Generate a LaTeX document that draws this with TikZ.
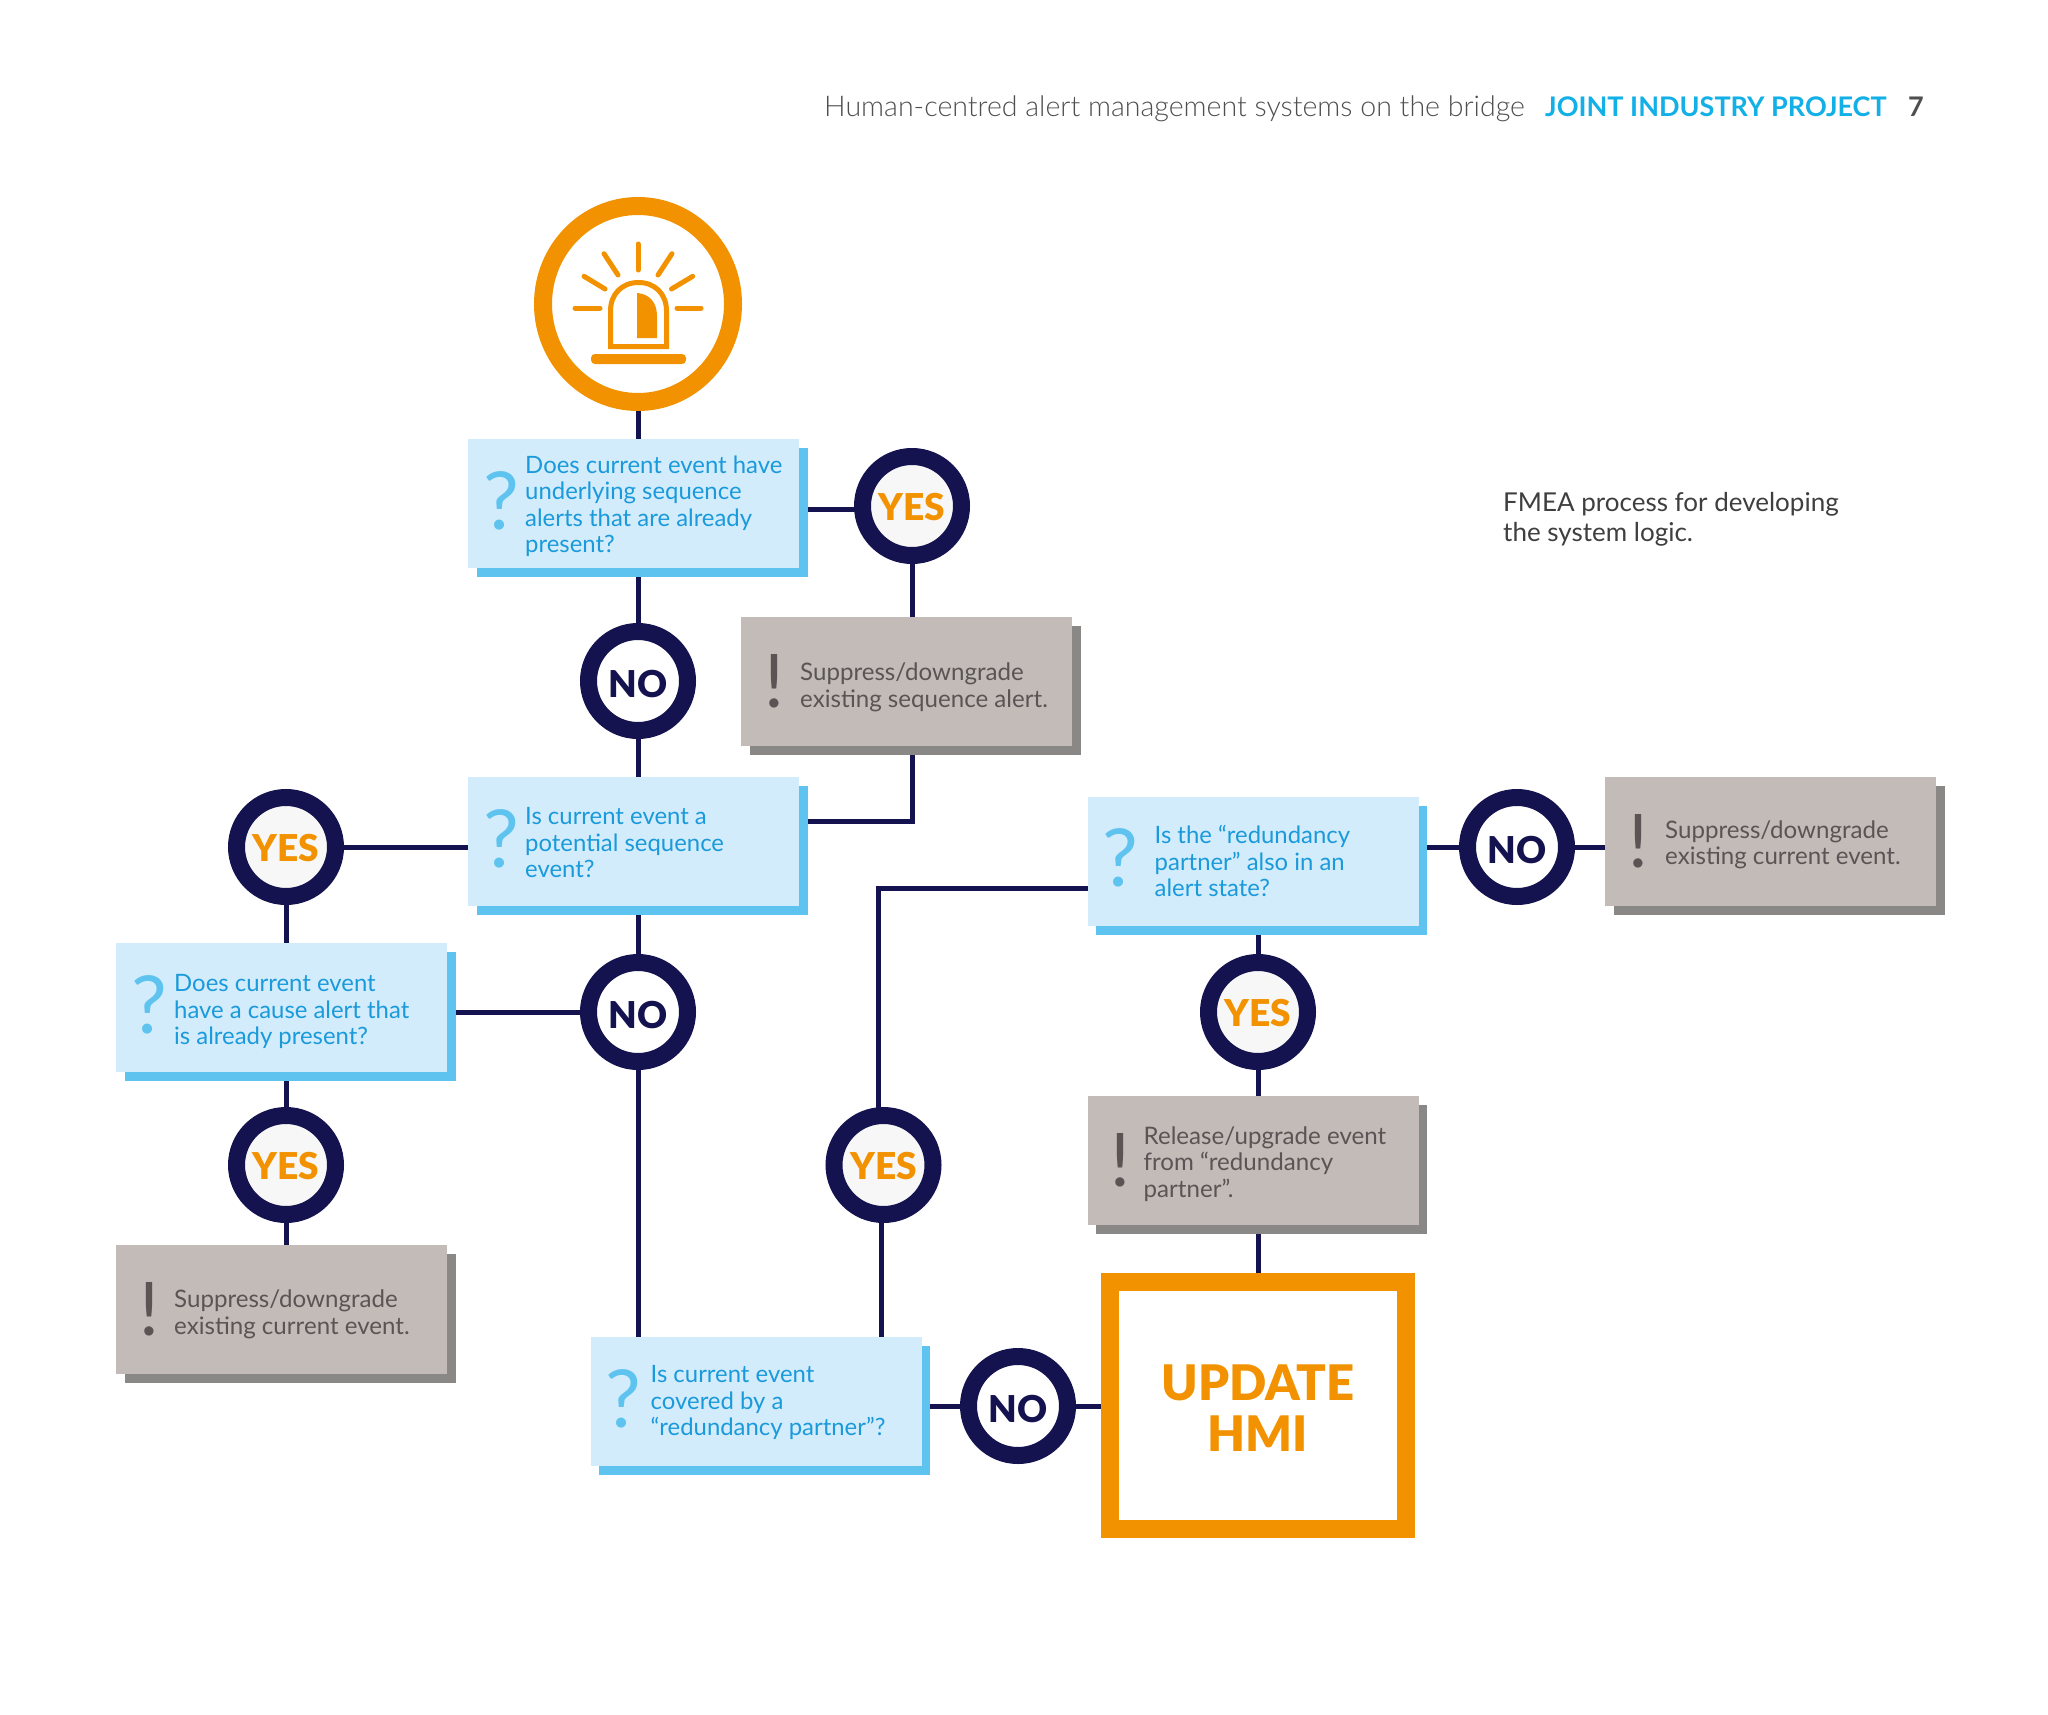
\documentclass[tikz,border=0pt]{standalone}
\usepackage{fontspec}
\setmainfont{Lato}
\newfontfamily\lightf{Lato Light}
\newfontfamily\blackf{Lato Black}
\usetikzlibrary{backgrounds,shadows,shapes.geometric}
\definecolor{navy}{HTML}{14134F}
\definecolor{orng}{HTML}{F39200}
\definecolor{qfill}{HTML}{D3ECFB}
\definecolor{qshad}{HTML}{5EC4EF}
\definecolor{qtxt}{HTML}{1A9ADB}
\definecolor{gfill}{HTML}{C2BBB8}
\definecolor{gshad}{HTML}{8A8787}
\definecolor{gtxt}{HTML}{5A5554}
\definecolor{hdark}{HTML}{4F4F4F}
\definecolor{hblue}{HTML}{12B0E6}
\tikzset{
  x=1pt,y=-1pt,
  lnk/.style={draw=navy,line width=5pt},
  boxbase/.style={rectangle,inner sep=0pt,outer sep=0pt,minimum width=331pt,minimum height=129pt},
  qbox/.style={boxbase,fill=qfill,general shadow={fill=qshad,shadow xshift=8.5pt,shadow yshift=-9pt}},
  gbox/.style={boxbase,fill=gfill,general shadow={fill=gshad,shadow xshift=8.5pt,shadow yshift=-9pt}},
  bodytext/.style={anchor=west,align=left,inner sep=0pt},
  qtext/.style={bodytext,text=qtxt,font=\fontsize{23.9pt}{26.5pt}\selectfont},
  gtext/.style={bodytext,text=gtxt,font=\fontsize{24.1pt}{26.5pt}\selectfont},
  qmark/.style={anchor=center,inner sep=0pt,text=qshad,font=\fontsize{80pt}{80pt}\selectfont},
  emark/.style={anchor=center,inner sep=0pt,text=gtxt,font=\fontsize{74pt}{74pt}\selectfont},
  ringbase/.style={circle,draw=navy,line width=17pt,minimum size=99pt,inner sep=0pt,outer sep=0pt,text depth=0pt,font=\blackf\fontsize{37pt}{37pt}\selectfont},
  yesring/.style={ringbase,fill=white!97!black,text=orng,text height=29pt},
  noring/.style={ringbase,fill=white,text=navy,text height=33pt},
  ray/.style={draw=orng,line width=5pt,line cap=round},
}
\begin{document}
\begin{tikzpicture}
\begin{pgfonlayer}{background}
\fill[white] (0,0) rectangle (2048,1715);
\end{pgfonlayer}
\useasboundingbox (0,0) rectangle (2048,1715);

% header
\node[anchor=base west,inner sep=0pt,text=hdark,font=\lightf\fontsize{28.55pt}{28pt}\selectfont] (hd1) at (824,117) {Human-centred alert management systems on the bridge};
\node[anchor=base west,inner sep=0pt,text=hblue,font=\bfseries\fontsize{27pt}{27pt}\selectfont] (hd2) at (1545,117) {JOINT INDUSTRY PROJECT};
\node[anchor=base west,inner sep=0pt,text=hdark,font=\bfseries\fontsize{27pt}{27pt}\selectfont] (hd3) at (1908,117) {7};
\node[anchor=north west,align=left,inner sep=0pt,text=hdark!80!black,font=\fontsize{26pt}{30pt}\selectfont] (cap) at (1503,492) {FMEA process for developing\\the system logic.};

% alarm
\node[ellipse,draw=orng,line width=18pt,minimum width=190pt,minimum height=196pt,inner sep=0pt,outer sep=0pt,fill=white] (alarm) at (638,304) {};

% question boxes
\node[qbox] (b1) at (633.5,503.5) {};
\node[qbox] (b2) at (633.5,841.5) {};
\node[qbox] (b3) at (281.5,1007.5) {};
\node[qbox] (b4) at (756,1401.5) {};
\node[qbox] (b5) at (1253,861) {};
% grey boxes
\node[gbox] (g1) at (906.5,681) {};
\node[gbox] (g3) at (281.5,1309.5) {};
\node[gbox] (g4) at (1770.5,841.5) {};
\node[gbox] (g5) at (1253,1160.5) {};

% texts
\node[qtext] (t1) at ([xshift=57pt,yshift=-2.5pt]b1.west) {Does current event have\\underlying sequence\\alerts that are already\\present?};
\node[qtext] (t2) at ([xshift=57pt,yshift=-1.3pt]b2.west) {Is current event a\\potential sequence\\event?};
\node[qtext] (t3) at ([xshift=58pt,yshift=-4pt]b3.west) {Does current event\\have a cause alert that\\is already present?};
\node[qtext] (t4) at ([xshift=60pt,yshift=-1pt]b4.west) {Is current event\\covered by a\\“redundancy partner”?};
\node[qtext] (t5) at ([xshift=67pt,yshift=0pt]b5.west) {Is the “redundancy\\partner” also in an\\alert state?};
\node[gtext] (u1) at ([xshift=59pt,yshift=-6.3pt]g1.west) {Suppress/downgrade\\existing sequence alert.};
\node[gtext] (u3) at ([xshift=58pt,yshift=-5pt]g3.west) {Suppress/downgrade\\existing current event.};
\node[gtext] (u4) at ([xshift=60pt,yshift=-3.3pt]g4.west) {Suppress/downgrade\\existing current event.};
\node[gtext] (u5) at ([xshift=56pt,yshift=-3.3pt]g5.west) {Release/upgrade event\\from “redundancy\\partner”.};

% marks
\node[qmark] (q1) at ([xshift=33pt,yshift=3pt]b1.west) {?};
\node[qmark] (q2) at ([xshift=33pt,yshift=3pt]b2.west) {?};
\node[qmark] (q3) at ([xshift=33pt,yshift=3pt]b3.west) {?};
\node[qmark] (q4) at ([xshift=33pt,yshift=3pt]b4.west) {?};
\node[qmark] (q5) at ([xshift=33pt,yshift=3pt]b5.west) {?};
\node[emark] (e1) at ([xshift=33pt]g1.west) {!};
\node[emark] (e3) at ([xshift=33pt]g3.west) {!};
\node[emark] (e4) at ([xshift=33pt]g4.west) {!};
\node[emark] (e5) at ([xshift=33pt]g5.west) {!};

% rings
\node[yesring] (y1) at (912,506) {YES};
\node[noring] (n1) at (638,681) {NO};
\node[yesring] (y2) at (286,847) {YES};
\node[noring] (n2) at (638,1012) {NO};
\node[yesring] (y3) at (286,1165) {YES};
\node[yesring] (y4) at (883.5,1165) {YES};
\node[noring] (n3) at (1018,1406) {NO};
\node[noring] (n4) at (1517,847) {NO};
\node[yesring] (y5) at (1258,1012) {YES};

% HMI
\node[rectangle,draw=orng,line width=18pt,fill=white,inner sep=0pt,outer sep=0pt,minimum width=296pt,minimum height=247pt] (hmi) at (1258,1405.5) {};
\node[align=center,inner sep=0pt,text=orng,font=\blackf\fontsize{49pt}{51pt}\selectfont] (hmit) at ([yshift=-2.5pt]hmi.center) {UPDATE\\HMI};

% connectors
\coordinate (k1) at (878,888);
\coordinate (k2) at (912,821);
\coordinate (k3) at (881,1165);
\coordinate (k4) at (700,509);
\begin{pgfonlayer}{background}
\draw[lnk] (alarm.center) -- (alarm.center |- b1.center);
\draw[lnk] (b1.center |- k4) -- (y1.center |- k4);
\draw[lnk] (y1.center) -- (y1.center |- g1.center);
\draw[lnk] (alarm.center |- b1.center) -- (n1.center);
\draw[lnk] (n1.center) -- (n1.center |- b2.center);
\draw[lnk] (k2 |- g1.center) -- (k2) -- (b2.center |- k2);
\draw[lnk] (y2.center) -- (y2.center -| b2.center);
\draw[lnk] (y2.center) -- (y2.center |- b3.center);
\draw[lnk] (n1.center |- b2.center) -- (n2.center);
\draw[lnk] (b3.center |- n2.center) -- (n2.center);
\draw[lnk] (y3.center |- b3.center) -- (y3.center);
\draw[lnk] (y3.center) -- (y3.center |- g3.center);
\draw[lnk] (n2.center) -- (n2.center |- b4.center);
\draw[lnk] (k3) -- (k3 |- b4.center);
\draw[lnk] (k1 |- y4.center) -- (k1) -- (k1 -| b5.center);
\draw[lnk] (b4.center |- n3.center) -- (n3.center);
\draw[lnk] (n3.center) -- (n3.center -| hmi.center);
\draw[lnk] (n4.center -| b5.center) -- (n4.center);
\draw[lnk] (n4.center) -- (n4.center -| g4.center);
\draw[lnk] (y5.center |- b5.center) -- (y5.center);
\draw[lnk] (y5.center) -- (y5.center |- g5.center);
\draw[lnk] (y5.center |- g5.center) -- (y5.center |- hmi.center);
\end{pgfonlayer}

% siren icon
\draw[ray] (575,308) -- (600,308);
\draw[ray] (677,308) -- (701,308);
\draw[ray] (638,244) -- (638,270);
\draw[ray] (604,253.7) -- (618,275);
\draw[ray] (672,253.7) -- (658,275);
\draw[ray] (584,276.3) -- (605,289);
\draw[ray] (692.7,276.3) -- (671.5,289);
\draw[orng,line width=5pt,line join=miter] (610.5,346.5) -- (610.5,311) .. controls (610.5,294) and (622,282.5) .. (638.5,282.5) .. controls (655,282.5) and (666.5,294) .. (666.5,311) -- (666.5,346.5) -- cycle;
\fill[orng] (637,293) .. controls (650,294) and (657,303) .. (657,316) -- (657,338) -- (637,338) -- cycle;
\fill[orng,rounded corners=4pt] (591,354) rectangle (686,364);
\end{tikzpicture}
\end{document}
